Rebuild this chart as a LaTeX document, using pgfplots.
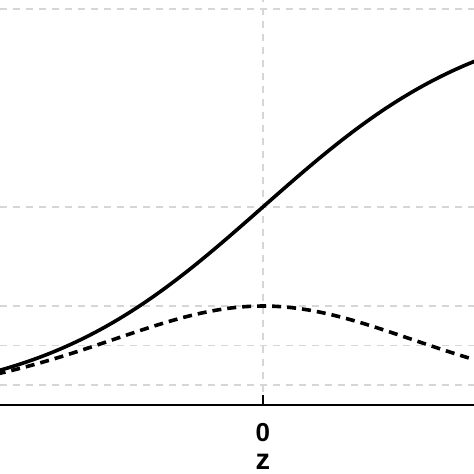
\documentclass[border=0pt]{standalone}
\usepackage{pgfplots}
\pgfplotsset{compat=1.18}
\usepackage{fontspec}
\setmainfont{Liberation Sans}
\begin{document}
\begin{tikzpicture}[x=1pt,y=1pt]
\begin{axis}[
  at={(0,0)}, anchor=south west,
  scale only axis, width=474pt, height=405pt,
  xmin=-2.34, xmax=1.88, ymin=0, ymax=1.023,
  axis x line*=bottom,
  axis y line*=left,
  y axis line style={draw=none},
  x axis line style={line width=2.6pt, black, -},
  xtick={0}, xticklabels={0},
  ytick={0.05,0.15,0.25,0.5,1.0}, yticklabels={},
  ytick style={draw=none},
  xtick style={line width=2pt, black},
  major tick length=10pt,
  tick align=inside,
  grid=major,
  major grid style={draw=black!16, line width=1.6pt, dash pattern=on 7pt off 6pt},
  /pgf/number format/assume math mode=true,
  xticklabel style={font=\bfseries\fontsize{26}{26}\selectfont, anchor=base, yshift=-36pt},
  xlabel={z},
  every axis x label/.style={at={(axis cs:0,0)}, anchor=base, yshift=-64pt, font=\bfseries\fontsize{29}{29}\selectfont},
  clip=true,
]
\addplot[black, line width=3.6pt, smooth] coordinates {
(-2.5,0.07586)(-2.4,0.08317)(-2.3,0.09112)(-2.2,0.09975)(-2.1,0.10910)
(-2.0,0.11920)(-1.9,0.13011)(-1.8,0.14185)(-1.7,0.15447)(-1.6,0.16798)
(-1.5,0.18243)(-1.4,0.19782)(-1.3,0.21417)(-1.2,0.23148)(-1.1,0.24974)
(-1.0,0.26894)(-0.9,0.28905)(-0.8,0.31003)(-0.7,0.33181)(-0.6,0.35434)
(-0.5,0.37754)(-0.4,0.40131)(-0.3,0.42556)(-0.2,0.45017)(-0.1,0.47502)
(0,0.5)(0.1,0.52498)(0.2,0.54983)(0.3,0.57444)(0.4,0.59869)
(0.5,0.62246)(0.6,0.64566)(0.7,0.66819)(0.8,0.68997)(0.9,0.71095)
(1.0,0.73106)(1.1,0.75026)(1.2,0.76852)(1.3,0.78583)(1.4,0.80218)
(1.5,0.81757)(1.6,0.83202)(1.7,0.84553)(1.8,0.85815)(1.9,0.86989)(2.0,0.88080)
};
\addplot[black, line width=3.6pt, smooth, dash pattern=on 9pt off 6pt] coordinates {
(-2.5,0.07011)(-2.4,0.07626)(-2.3,0.08282)(-2.2,0.08980)(-2.1,0.09720)
(-2.0,0.10499)(-1.9,0.11318)(-1.8,0.12173)(-1.7,0.13061)(-1.6,0.13976)
(-1.5,0.14915)(-1.4,0.15869)(-1.3,0.16830)(-1.2,0.17790)(-1.1,0.18737)
(-1.0,0.19661)(-0.9,0.20550)(-0.8,0.21391)(-0.7,0.22171)(-0.6,0.22878)
(-0.5,0.23500)(-0.4,0.24026)(-0.3,0.24446)(-0.2,0.24752)(-0.1,0.24938)
(0,0.25)(0.1,0.24938)(0.2,0.24752)(0.3,0.24446)(0.4,0.24026)
(0.5,0.23500)(0.6,0.22878)(0.7,0.22171)(0.8,0.21391)(0.9,0.20550)
(1.0,0.19661)(1.1,0.18737)(1.2,0.17790)(1.3,0.16830)(1.4,0.15869)
(1.5,0.14915)(1.6,0.13976)(1.7,0.13061)(1.8,0.12173)(1.9,0.11318)(2.0,0.10499)
};
\end{axis}
\pgfresetboundingbox
\path (0,-69) rectangle (474,405);
\end{tikzpicture}
\end{document}
